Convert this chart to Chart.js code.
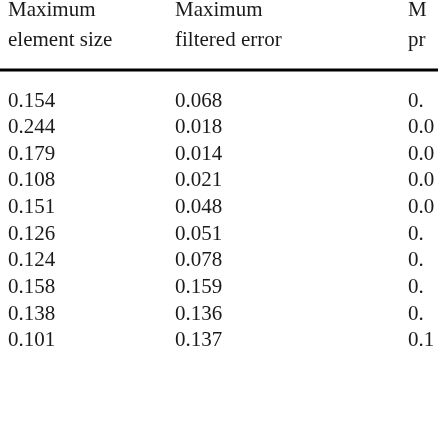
<!DOCTYPE html>
<html>
<head>
<meta charset="utf-8">
<script src="https://cdn.jsdelivr.net/npm/chart.js@4/dist/chart.umd.min.js"></script>
<style>
  html, body { margin: 0; padding: 0; background: #fff; }
  #wrap { width: 438px; height: 438px; }
</style>
</head>
<body>
<div id="wrap"><canvas id="tableChart"></canvas></div>
<script>
// table content
const headers1 = ["Maximum", "element size"];
const headers2 = ["Maximum", "filtered error"];
const headers3 = ["M", "pr"];
const elementSize = [0.154, 0.244, 0.179, 0.108, 0.151, 0.126, 0.124, 0.158, 0.138, 0.101];
const filteredError = [0.068, 0.018, 0.014, 0.021, 0.048, 0.051, 0.078, 0.159, 0.136, 0.137];
const thirdCol = ["0.", "0.0", "0.0", "0.0", "0.0", "0.", "0.", "0.", "0.", "0.1"];

// layout (pixel-space scale 0..438)
const colX = [8, 175, 408];
const headerY = [10, 40];
const rowY0 = 101, rowStep = 26.65;
const ruleY = 70;

const mkPts = (col, vals) => vals.map((v, i) => ({ x: colX[col], y: rowY0 + i * rowStep, label: v.toFixed(3) }));

const textPlugin = {
  id: "tableText",
  afterDatasetsDraw(chart) {
    const { ctx, scales: { x, y } } = chart;
    ctx.save();
    ctx.fillStyle = "#1a1a1a";
    ctx.font = "21px 'Liberation Serif', 'DejaVu Serif', serif";
    ctx.textBaseline = "middle";
    [headers1, headers2, headers3].forEach((h, c) => {
      h.forEach((t, r) => ctx.fillText(t, x.getPixelForValue(colX[c]), y.getPixelForValue(headerY[r])));
    });
    chart.data.datasets.forEach(ds => {
      ds.data.forEach(p => ctx.fillText(p.label, x.getPixelForValue(p.x), y.getPixelForValue(p.y)));
    });
    ctx.strokeStyle = "#000";
    ctx.lineWidth = 3;
    ctx.beginPath();
    ctx.moveTo(x.getPixelForValue(0), y.getPixelForValue(ruleY));
    ctx.lineTo(x.getPixelForValue(438), y.getPixelForValue(ruleY));
    ctx.stroke();
    ctx.restore();
  }
};

document.addEventListener("DOMContentLoaded", () => {
  new Chart(document.getElementById("tableChart").getContext("2d"), {
    type: "scatter",
    data: {
      datasets: [
        { data: mkPts(0, elementSize), pointRadius: 0 },
        { data: mkPts(1, filteredError), pointRadius: 0 },
        { data: thirdCol.map((t, i) => ({ x: colX[2], y: rowY0 + i * rowStep, label: t })), pointRadius: 0 }
      ]
    },
    options: {
      responsive: true,
      maintainAspectRatio: false,
      animation: false,
      layout: { padding: 0 },
      plugins: { legend: { display: false }, tooltip: { enabled: false } },
      scales: {
        x: { type: "linear", min: 0, max: 438, display: false },
        y: { type: "linear", min: 0, max: 438, reverse: true, display: false }
      }
    },
    plugins: [textPlugin]
  });
});
</script>
</body>
</html>
